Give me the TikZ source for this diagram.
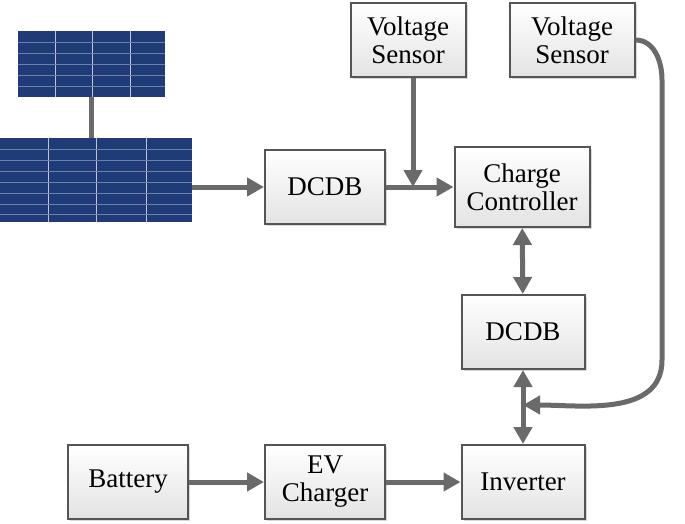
\documentclass[tikz,border=0pt]{standalone}
\usepackage{fontspec}
\setmainfont{Liberation Serif}
\usetikzlibrary{arrows.meta,shadows}
\definecolor{wire}{HTML}{6A6A6A}
\definecolor{panel}{HTML}{1F3C78}
\tikzset{
  block/.style={draw=wire!80!black, line width=2pt, top color=white, bottom color=gray!22,
    drop shadow={shadow xshift=2pt, shadow yshift=-2pt, fill=gray!60},
    minimum width=#1, minimum height=74pt, inner sep=0pt, align=center,
    font=\fontsize{27}{28}\selectfont},
  block/.default=120pt,
  wire/.style={draw=wire, line width=5pt},
  flow/.style={wire, -{Triangle[length=17pt,width=18pt]}},
  both/.style={wire, {Triangle[length=17pt,width=18pt]}-{Triangle[length=17pt,width=18pt]}}
}
\begin{document}
\begin{tikzpicture}[x=1pt,y=-1pt]
  \useasboundingbox (0,0) rectangle (685,523);
  % solar panels
  \fill[panel] (18,31) rectangle (165,97);
  \fill[panel] (0,138) rectangle (192,222);
  \foreach \x in {55,92,130} \draw[white!70!panel, line width=0.8pt] (\x,31) -- (\x,97);
  \foreach \y in {42,53,64,75,86} \draw[white!35!panel, line width=0.4pt] (18,\y) -- (165,\y);
  \foreach \x in {48,96,146} \draw[white!70!panel, line width=0.8pt] (\x,138) -- (\x,222);
  \foreach \y in {149,160,171,182,193,204,214} \draw[white!35!panel, line width=0.4pt] (0,\y) -- (192,\y);
  \coordinate (top) at (91,97);
  \coordinate (bot) at (91,138);
  \coordinate (pv) at (192,187);
  \draw[wire] (top) -- (bot);

  % blocks
  \node[block=115pt] (vs1) at (408,40) {Voltage\\Sensor};
  \node[block=125pt] (vs2) at (572,40) {Voltage\\Sensor};
  \node[block] (dcdb1) at (325,187) {DCDB};
  \node[block=135pt, minimum height=80pt] (cc) at (522,187) {Charge\\Controller};
  \node[block=123pt] (dcdb2) at (523,332) {DCDB};
  \node[block] (bat) at (128,482) {Battery};
  \node[block] (ev) at (325,482) {EV\\Charger};
  \node[block=123pt] (inv) at (523,482) {Inverter};

  % connectors
  \coordinate (join) at (413,187);
  \coordinate (tap) at (523,405);
  \draw[flow] (pv) -- (dcdb1);
  \draw[flow] (dcdb1) -- (cc);
  \draw[flow] (vs1.south -| join) -- (join);
  \draw[both] (cc) -- (dcdb2);
  \draw[both] (dcdb2) -- (inv);
  \draw[flow] (vs2.east) to[out=0,in=90] (662,80) -- (662,360) to[out=-90,in=0] (tap);
  \draw[flow] (bat) -- (ev);
  \draw[flow] (ev) -- (inv);
\end{tikzpicture}
\end{document}
